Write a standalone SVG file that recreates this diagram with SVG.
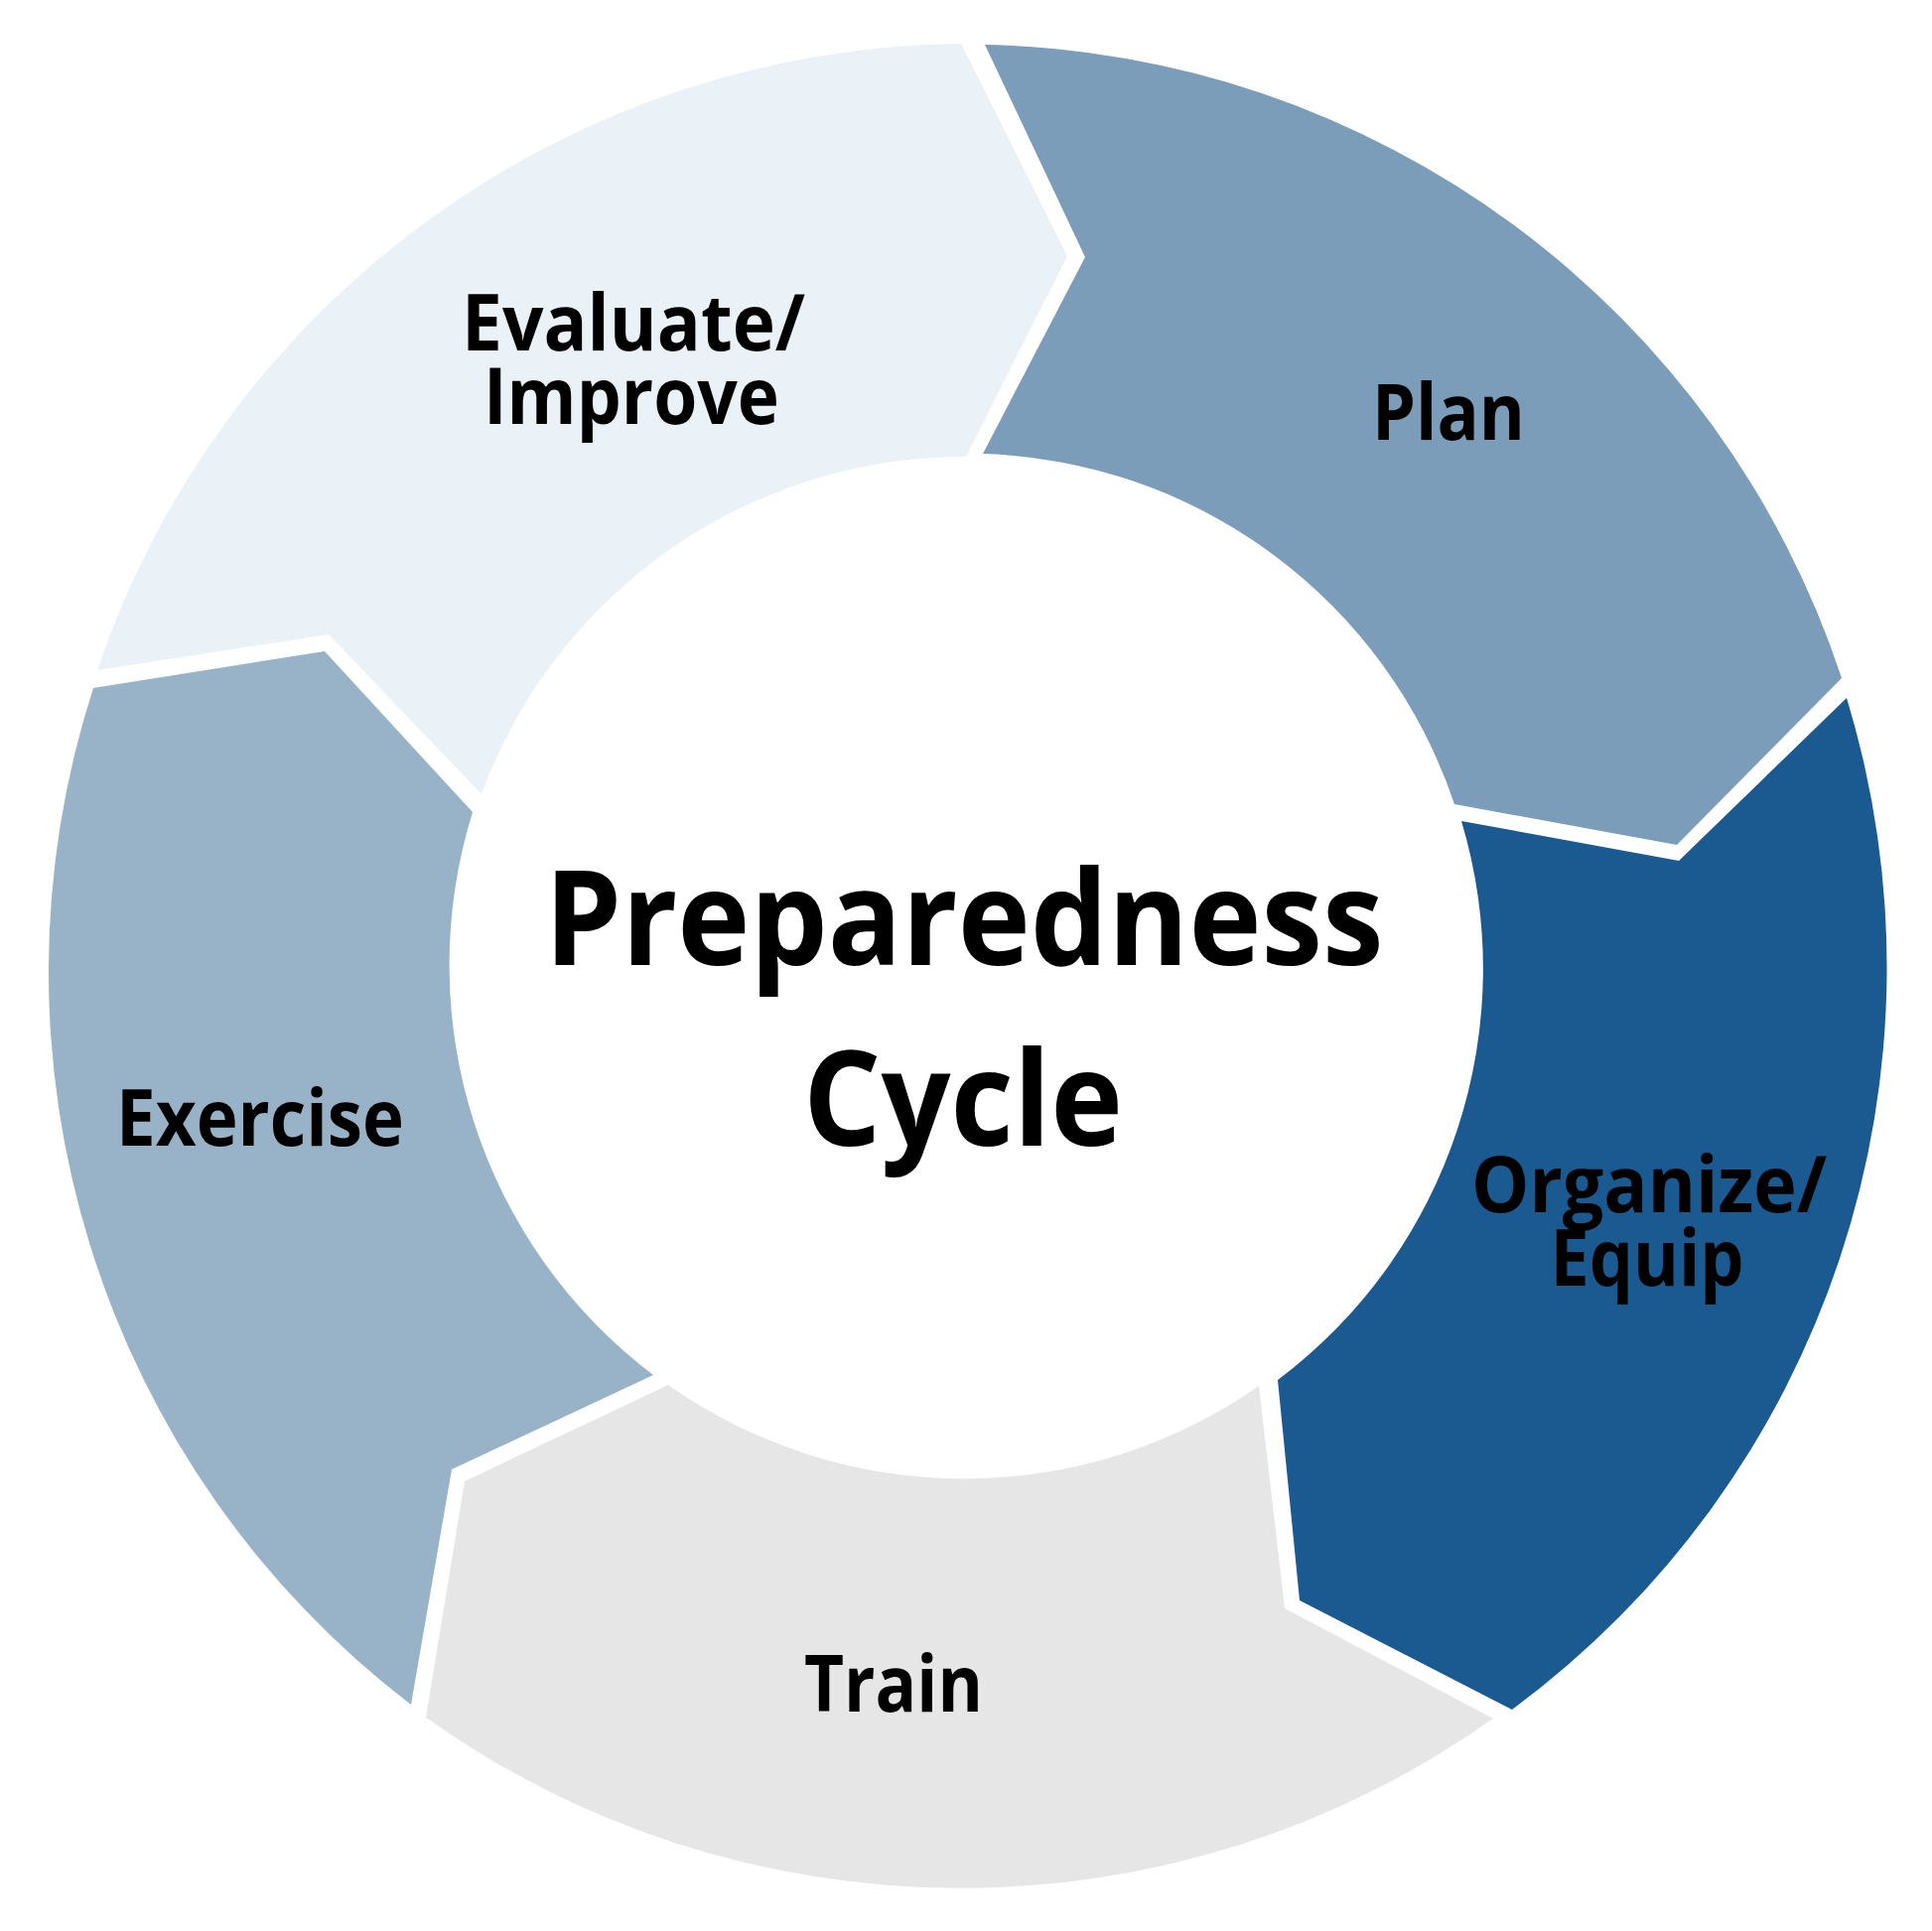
<svg xmlns="http://www.w3.org/2000/svg" width="1946" height="1945" viewBox="0 0 1946 1945">
<style>
.lbl{font-family:"Open Sans","Noto Sans","Liberation Sans",sans-serif;font-weight:700;font-size:78px;fill:#000;text-anchor:middle}
.ttl{font-family:"Open Sans","Noto Sans","Liberation Sans",sans-serif;font-weight:700;font-size:133px;fill:#000;text-anchor:middle}
</style>
<rect width="1946" height="1945" fill="#fff"/>
<g id="evaluate">
<path d="M98,675 A929,929 0 0 1 968,44 L1075,258 L973,460 A518,518 0 0 0 485,800 L331,639 Z" fill="#EAF2F8"/>
<text class="lbl" x="638" y="353" textLength="346" lengthAdjust="spacingAndGlyphs">Evaluate/</text>
<text class="lbl" x="636" y="427" textLength="298" lengthAdjust="spacingAndGlyphs">Improve</text>
</g>
<g id="plan">
<path d="M992,45 A929,929 0 0 1 1855,683 L1689,851 L1465,810 A518,518 0 0 0 990,457 L1093,259 Z" fill="#7B9DB9"/>
<text class="lbl" x="1459" y="443" textLength="154" lengthAdjust="spacingAndGlyphs">Plan</text>
</g>
<g id="organize">
<path d="M1860,703 A929,929 0 0 1 1523,1722 L1309,1612 L1287,1390 A518,518 0 0 0 1472,827 L1691,867 Z" fill="#1B5A90"/>
<text class="lbl" x="1661" y="1221" textLength="358" lengthAdjust="spacingAndGlyphs">Organize/</text>
<text class="lbl" x="1659" y="1295" textLength="195" lengthAdjust="spacingAndGlyphs">Equip</text>
</g>
<g id="train">
<path d="M1504,1731 A929,929 0 0 1 429,1730 L468,1492 L673,1395 A518,518 0 0 0 1268,1396 L1294,1620 Z" fill="#E6E6E6"/>
<text class="lbl" x="900" y="1724" textLength="180" lengthAdjust="spacingAndGlyphs">Train</text>
</g>
<g id="exercise">
<path d="M414,1717 A929,929 0 0 1 94,693 L327,656 L476,818 A518,518 0 0 0 658,1385 L455,1480 Z" fill="#98B3C8"/>
<text class="lbl" x="262" y="1154" textLength="290" lengthAdjust="spacingAndGlyphs">Exercise</text>
</g>
<g id="center">
<text class="ttl" x="971" y="972" textLength="845" lengthAdjust="spacingAndGlyphs">Preparedness</text>
<text class="ttl" x="970" y="1154" textLength="322" lengthAdjust="spacingAndGlyphs">Cycle</text>
</g>
<g id="connectors"></g>
</svg>
